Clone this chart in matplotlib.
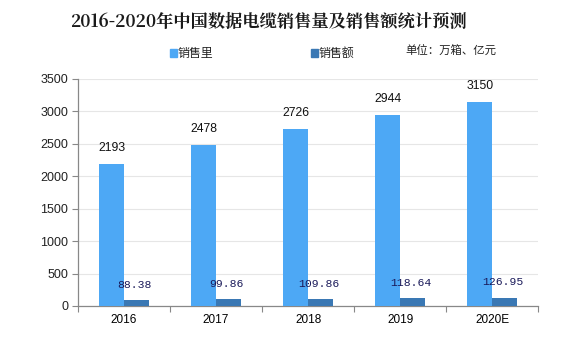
import matplotlib.pyplot as plt
import numpy as np
from matplotlib.patches import Rectangle

plt.rcParams['font.family'] = ['Liberation Sans', 'Noto Sans CJK SC', 'DejaVu Sans']

# data
years = ['2016', '2017', '2018', '2019', '2020E']
volume = [2193, 2478, 2726, 2944, 3150]      # 销售量 (万箱)
sales = [88.38, 99.86, 109.86, 118.64, 126.95]  # 销售额 (亿元)

c_light = '#4da8f5'
c_dark = '#3a78b4'

fig = plt.figure(figsize=(5.69, 3.57), dpi=100)
ax = fig.add_axes([0.137, 0.143, 0.809, 0.636])

x = np.arange(len(years))
w = 0.27
ax.bar(x - w / 2, volume, width=w, color=c_light, zorder=3)
ax.bar(x + w / 2, sales, width=w, color=c_dark, zorder=3)

for xi, v in zip(x, volume):
    ax.annotate(str(v), (xi - w / 2, v), xytext=(0, 11.5), textcoords='offset points',
                ha='center', va='center', fontsize=8.8, color='#111111')
for xi, v in zip(x, sales):
    ax.annotate('{:.2f}'.format(v), (xi + w / 2 - 0.02, v), xytext=(0, 11), textcoords='offset points',
                ha='center', va='center', fontsize=8.2, family='Liberation Mono', color='#1a1a5a')

ax.set_xlim(-0.5, len(years) - 0.5)
ax.set_ylim(0, 3500)
ax.set_yticks(range(0, 3501, 500))
ax.yaxis.grid(True, color='#e6e6e6', linewidth=0.8, zorder=0)

ax.set_xticks(np.arange(len(years) + 1) - 0.5)
ax.set_xticklabels([])
ax.set_xticks(x, minor=True)
ax.set_xticklabels(years, minor=True, fontsize=8.5)
ax.tick_params(axis='x', which='minor', length=0, pad=6)
ax.tick_params(axis='x', which='major', length=4, color='#888888')
ax.tick_params(axis='y', length=4, color='#888888', labelsize=9, pad=3, labelcolor='#222222')

for s in ['top', 'right']:
    ax.spines[s].set_visible(False)
for s in ['left', 'bottom']:
    ax.spines[s].set_color('#888888')
    ax.spines[s].set_linewidth(0.9)

fig.text(70 / 569, 1 - 22 / 357, '2016-2020年中国数据电缆销售量及销售额统计预测',
         fontsize=12.4, fontweight='bold', family=['Noto Serif CJK SC', 'Noto Sans CJK SC'],
         ha='left', va='center', color='#1a1a1a')

# legend row
ly = 1 - 53 / 357
sq = 7
for px, col, label in [(170, c_light, '销售里'), (311, c_dark, '销售额')]:
    fig.patches.append(Rectangle((px / 569, ly - sq / 2 / 357), sq / 569, sq / 357,
                                 transform=fig.transFigure, color=col, figure=fig))
    fig.text((px + 8) / 569, ly, label, fontsize=8.6, family='Noto Sans CJK SC',
             ha='left', va='center', color='#222222')
fig.text(405 / 569, ly + 2 / 357, '单位：万箱、亿元', fontsize=8.2, family='Noto Sans CJK SC',
         ha='left', va='center', color='#222222')

fig.savefig('out.png', dpi=100)
